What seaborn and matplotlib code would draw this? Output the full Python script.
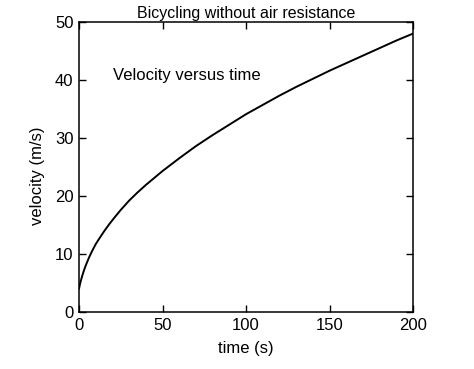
import matplotlib
matplotlib.use("Agg")
import matplotlib.pyplot as plt
import seaborn as sns
import pandas as pd

# values
time_s = [0, 0.5, 1, 2, 3, 4, 6, 8, 10, 12, 15, 18, 21, 25, 30, 35, 40, 50, 60, 70,
          80, 90, 100, 110, 120, 130, 140, 150, 160, 170, 180, 190, 200]
velocity = [4.0, 4.7, 5.3, 6.3, 7.2, 8.0, 9.4, 10.6, 11.7, 12.6, 13.9, 15.1,
            16.2, 17.6, 19.2, 20.6, 21.9, 24.3, 26.5, 28.6, 30.5, 32.3, 34.1,
            35.7, 37.3, 38.8, 40.2, 41.6, 42.9, 44.2, 45.5, 46.8, 48.0]

title = "Bicycling without air resistance"
annotation = "Velocity versus time"
xlabel = "time (s)"
ylabel = "velocity (m/s)"
xticks = [0, 50, 100, 150, 200]
yticks = [0, 10, 20, 30, 40, 50]

df = pd.DataFrame({"time": time_s, "velocity": velocity})

sns.set_theme(style="ticks")
plt.rcParams["font.family"] = ["Liberation Sans", "DejaVu Sans"]
plt.rcParams["xtick.direction"] = "in"
plt.rcParams["ytick.direction"] = "in"

fig = plt.figure(figsize=(4.74, 3.69), dpi=100)
ax = fig.add_axes([0.1667, 0.1545, 0.7046, 0.7859])

sns.lineplot(data=df, x="time", y="velocity", ax=ax, color="black", linewidth=1.4)

ax.set_xlim(0, 200)
ax.set_ylim(0, 50)
ax.set_xticks(xticks)
ax.set_yticks(yticks)
ax.tick_params(axis="both", which="both", top=True, right=True, length=5,
               width=1, labelsize=12, colors="black", pad=4)
for s in ax.spines.values():
    s.set_visible(True)
    s.set_linewidth(1.1)
    s.set_color("black")

ax.set_title(title, fontsize=11.5, pad=3, color="black")
ax.set_xlabel(xlabel, fontsize=12, labelpad=6, color="black")
ax.set_ylabel(ylabel, fontsize=12, color="black")
ax.yaxis.set_label_coords(-0.102, 0.469)
ax.text(20.5, 40.8, annotation, fontsize=12, ha="left", va="center", color="black")

fig.savefig("out.png", dpi=100, facecolor="white")
